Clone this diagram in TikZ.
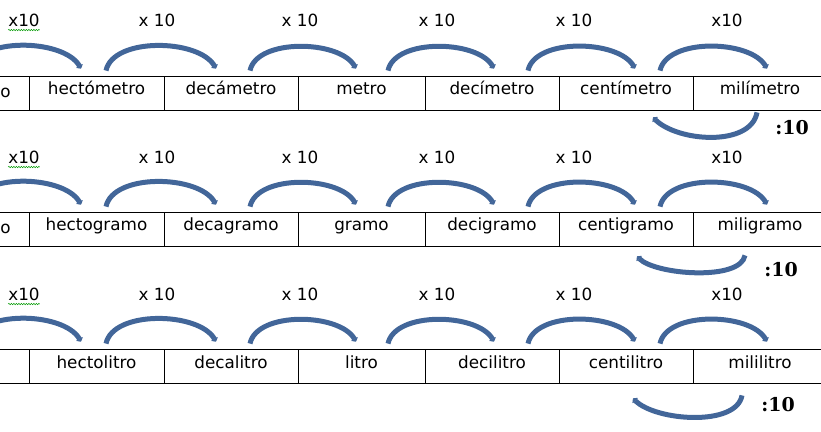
\documentclass[tikz,border=0pt]{standalone}
\usepackage{fontspec}
\setmainfont{DejaVu Sans}
\newfontfamily\divfont{DejaVu Serif}
\usetikzlibrary{arrows.meta,decorations.pathmorphing}
\definecolor{arcblue}{rgb}{0.26,0.40,0.60}

\tikzset{
  cell/.style={draw, line width=0.8pt, minimum height=34pt, inner sep=0pt,
    text height=9pt, text depth=5pt, font=\fontsize{16.8}{18}\selectfont},
  lab/.style={inner sep=0pt, font=\fontsize{16.8}{18}\selectfont},
  div/.style={inner sep=0pt, font=\divfont\bfseries\fontsize{19}{21}\selectfont},
  jump/.style={draw=arcblue, line width=5pt, -{Triangle[length=3.5pt,width=8.5pt,round]},
    out=78, in=120, looseness=0.8},
  back/.style={draw=arcblue, line width=5pt, -{Triangle[length=3.5pt,width=8.5pt,round]},
    out=-100, in=-45, looseness=0.8},
  squig/.style={draw=green!60!black, line width=0.5pt, decorate,
    decoration={snake, amplitude=0.7pt, segment length=2.5pt}}
}

\begin{document}
\begin{tikzpicture}[x=1pt,y=1pt]

    \useasboundingbox (0,0) rectangle (821,431);

    % metro
    \node[cell,minimum width=135pt] (km) at (-38.5,338) {};
    \node[lab] (kmo) at (5.5,338) {o};
    \node[cell,minimum width=135pt] (hm) at (96.5,338) {hectómetro};
    \node[cell,minimum width=134pt] (dam) at (231,338) {decámetro};
    \node[cell,minimum width=127pt] (m) at (361.5,338) {metro};
    \node[cell,minimum width=134pt] (dm) at (492,338) {decímetro};
    \node[cell,minimum width=134pt] (cm) at (626,338) {centímetro};
    \node[cell,minimum width=134pt] (mm) at (760,338) {milímetro};
    \node[lab] (xm1) at (24,411) {x10};
    \node[lab] (xm2) at (157,411) {x 10};
    \node[lab] (xm3) at (300,411) {x 10};
    \node[lab] (xm4) at (437,411) {x 10};
    \node[lab] (xm5) at (574,411) {x 10};
    \node[lab] (xm6) at (727,411) {x10};
    \draw[squig] ([yshift=-3.5pt]xm1.south west) -- ([yshift=-3.5pt]xm1.south east);
    \draw[jump] ([xshift=8.5pt,yshift=5pt]km.north) to ([xshift=-15.5pt,yshift=7pt]hm.north);
    \draw[jump] ([xshift=9.5pt,yshift=5pt]hm.north) to ([xshift=-15pt,yshift=7pt]dam.north);
    \draw[jump] ([xshift=19pt,yshift=5pt]dam.north) to ([xshift=-5.5pt,yshift=7pt]m.north);
    \draw[jump] ([xshift=26.5pt,yshift=5pt]m.north) to ([xshift=2pt,yshift=7pt]dm.north);
    \draw[jump] ([xshift=36pt,yshift=5pt]dm.north) to ([xshift=9pt,yshift=7pt]cm.north);
    \draw[jump] ([xshift=34pt,yshift=5pt]cm.north) to ([xshift=7pt,yshift=7pt]mm.north);
    \draw[back,looseness=0.86] ([xshift=-3pt,yshift=-2pt]mm.south) to ([xshift=27pt,yshift=-7pt]cm.south);
    \node[div] (dvm) at (792,303) {:10};

    % gramo
    \node[cell,minimum width=135pt] (kg) at (-38.5,202) {};
    \node[lab] (kgo) at (5.5,202) {o};
    \node[cell,minimum width=135pt] (hg) at (96.5,202) {hectogramo};
    \node[cell,minimum width=134pt] (dag) at (231,202) {decagramo};
    \node[cell,minimum width=127pt] (g) at (361.5,202) {gramo};
    \node[cell,minimum width=134pt] (dg) at (492,202) {decigramo};
    \node[cell,minimum width=134pt] (cg) at (626,202) {centigramo};
    \node[cell,minimum width=134pt] (mg) at (760,202) {miligramo};
    \node[lab] (xg1) at (24,274) {x10};
    \node[lab] (xg2) at (157,274) {x 10};
    \node[lab] (xg3) at (300,274) {x 10};
    \node[lab] (xg4) at (437,274) {x 10};
    \node[lab] (xg5) at (574,274) {x 10};
    \node[lab] (xg6) at (727,274) {x10};
    \draw[squig] ([yshift=-3.5pt]xg1.south west) -- ([yshift=-3.5pt]xg1.south east);
    \draw[jump] ([xshift=8.5pt,yshift=5pt]kg.north) to ([xshift=-15.5pt,yshift=7pt]hg.north);
    \draw[jump] ([xshift=9.5pt,yshift=5pt]hg.north) to ([xshift=-15pt,yshift=7pt]dag.north);
    \draw[jump] ([xshift=19pt,yshift=5pt]dag.north) to ([xshift=-5.5pt,yshift=7pt]g.north);
    \draw[jump] ([xshift=26.5pt,yshift=5pt]g.north) to ([xshift=2pt,yshift=7pt]dg.north);
    \draw[jump] ([xshift=36pt,yshift=5pt]dg.north) to ([xshift=9pt,yshift=7pt]cg.north);
    \draw[jump] ([xshift=34pt,yshift=5pt]cg.north) to ([xshift=7pt,yshift=7pt]mg.north);
    \draw[back,looseness=0.62] ([xshift=-15pt,yshift=-9pt]mg.south) to ([xshift=11pt,yshift=-10pt]cg.south);
    \node[div] (dvg) at (781,161) {:10};

    % litro
    \node[cell,minimum width=135pt] (kl) at (-38.5,65) {};
    \node[cell,minimum width=135pt] (hl) at (96.5,65) {hectolitro};
    \node[cell,minimum width=134pt] (dal) at (231,65) {decalitro};
    \node[cell,minimum width=127pt] (l) at (361.5,65) {litro};
    \node[cell,minimum width=134pt] (dl) at (492,65) {decilitro};
    \node[cell,minimum width=134pt] (cl) at (626,65) {centilitro};
    \node[cell,minimum width=134pt] (ml) at (760,65) {mililitro};
    \node[lab] (xl1) at (24,137) {x10};
    \node[lab] (xl2) at (157,137) {x 10};
    \node[lab] (xl3) at (300,137) {x 10};
    \node[lab] (xl4) at (437,137) {x 10};
    \node[lab] (xl5) at (574,137) {x 10};
    \node[lab] (xl6) at (727,137) {x10};
    \draw[squig] ([yshift=-3.5pt]xl1.south west) -- ([yshift=-3.5pt]xl1.south east);
    \draw[jump] ([xshift=8.5pt,yshift=5pt]kl.north) to ([xshift=-15.5pt,yshift=7pt]hl.north);
    \draw[jump] ([xshift=9.5pt,yshift=5pt]hl.north) to ([xshift=-15pt,yshift=7pt]dal.north);
    \draw[jump] ([xshift=19pt,yshift=5pt]dal.north) to ([xshift=-5.5pt,yshift=7pt]l.north);
    \draw[jump] ([xshift=26.5pt,yshift=5pt]l.north) to ([xshift=2pt,yshift=7pt]dl.north);
    \draw[jump] ([xshift=36pt,yshift=5pt]dl.north) to ([xshift=9pt,yshift=7pt]cl.north);
    \draw[jump] ([xshift=34pt,yshift=5pt]cl.north) to ([xshift=7pt,yshift=7pt]ml.north);
    \draw[back,looseness=0.75] ([xshift=-18pt,yshift=-12pt]ml.south) to ([xshift=7pt,yshift=-15pt]cl.south);
    \node[div] (dvl) at (778,26) {:10};

\end{tikzpicture}
\end{document}
